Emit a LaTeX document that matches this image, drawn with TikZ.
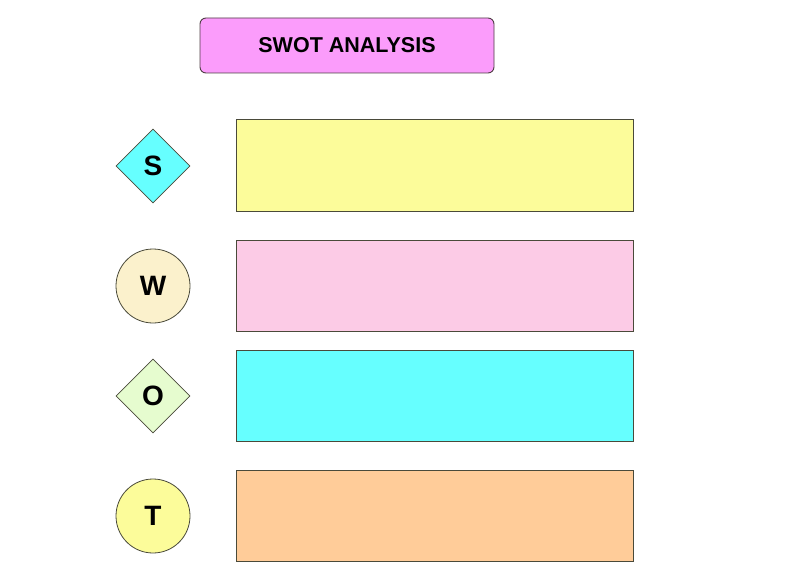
\documentclass[tikz,border=0pt]{standalone}
\usepackage{fontspec}
\setmainfont{Liberation Sans}
\usetikzlibrary{shapes.geometric}
\definecolor{titlefill}{HTML}{FB9CFB}
\definecolor{yel}{HTML}{FCFC9A}
\definecolor{pnk}{HTML}{FCCBE6}
\definecolor{cya}{HTML}{66FFFF}
\definecolor{org}{HTML}{FFCC99}
\definecolor{cream}{HTML}{FBF1CC}
\definecolor{lgreen}{HTML}{E6FCCF}
\definecolor{edge}{HTML}{4A4A3A}
\tikzset{
  titlebox/.style={draw=black!80!magenta, line width=0.9pt, rounded corners=6pt, fill=titlefill, minimum width=294pt, minimum height=55pt, font=\fontsize{21.5}{24}\selectfont\bfseries},
  band/.style={draw=edge, line width=1pt, minimum width=397pt, minimum height=91pt, inner sep=0pt},
  dia/.style={diamond, draw=edge, line width=0.8pt, minimum width=74pt, minimum height=74pt, inner sep=0pt, font=\fontsize{28}{32}\selectfont\bfseries},
  circ/.style={circle, draw=edge, line width=0.8pt, minimum size=74pt, inner sep=0pt, font=\fontsize{28}{32}\selectfont\bfseries}
}
\begin{document}
\begin{tikzpicture}[x=1pt,y=-1pt]
\useasboundingbox (0,0) rectangle (800,572);
\node[titlebox] (title) at (347,45.5) {SWOT ANALYSIS};
\node[band, fill=yel] (rs) at (434.5,165.5) {};
\node[band, fill=pnk] (rw) at (434.5,285.5) {};
\node[band, fill=cya] (ro) at (434.5,395.5) {};
\node[band, fill=org] (rt) at (434.5,515.5) {};
\node[dia, fill=cya] (s) at (153,166) {S};
\node[circ, fill=cream] (w) at (153,286) {W};
\node[dia, fill=lgreen] (o) at (153,396) {O};
\node[circ, fill=yel] (t) at (153,516) {T};
\end{tikzpicture}
\end{document}
